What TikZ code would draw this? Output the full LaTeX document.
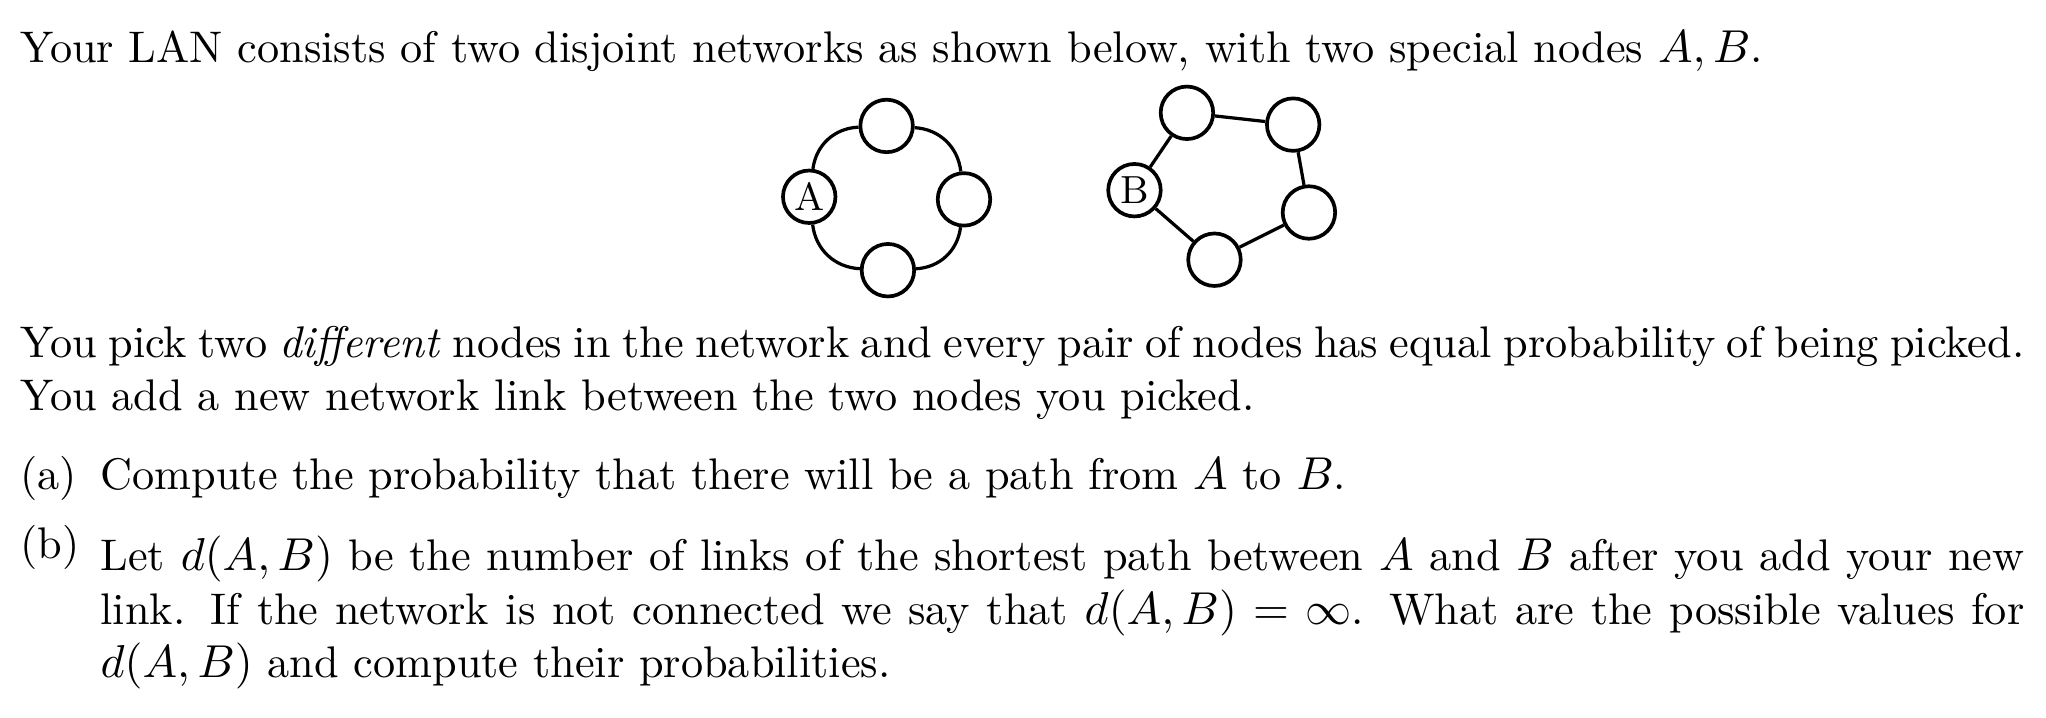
\documentclass[tikz,border=0pt]{standalone}
\begin{document}
\begin{tikzpicture}[x=0.01cm,y=-0.01cm,
  nd/.style={circle,draw,line width=0.8pt,fill=white,minimum size=0.4cm,inner sep=0pt,font=\fontsize{8.5}{10}\selectfont},
  ed/.style={line width=0.7pt},
  txt/.style={anchor=base west,inner sep=0pt,align=justify,font=\fontsize{9.6}{11.6}\selectfont}]
\useasboundingbox (0,0) rectangle (1560,547);
\node[txt] (l1) at (15,48) {Your LAN consists of two disjoint networks as shown below, with two special nodes $A,B$.};
% left network
\node[nd] (A) at (617,150) {A};
\node[nd] (lt) at (676,96) {};
\node[nd] (lr) at (735,152) {};
\node[nd] (lb) at (677,206) {};
\draw[ed] (A) to[bend left=40] (lt);
\draw[ed] (lt) to[bend left=40] (lr);
\draw[ed] (lr) to[bend left=40] (lb);
\draw[ed] (lb) to[bend left=40] (A);
% right network
\node[nd] (B) at (865,145) {B};
\node[nd] (r1) at (905,86) {};
\node[nd] (r2) at (986,95) {};
\node[nd] (r3) at (998,162) {};
\node[nd] (r4) at (926,198) {};
\draw[ed] (B) -- (r1) -- (r2) -- (r3) -- (r4) -- (B);
\node[txt,text width=15.27cm,anchor=north west] (p2) at (15,248) {You pick two \emph{different} nodes in the network and every pair of nodes has equal probability of being picked. You add a new network link between the two nodes you picked.};
\node[txt] (ia) at (15,373) {(a)};
\node[txt] (ta) at (76,373) {Compute the probability that there will be a path from $A$ to $B$.};
\node[txt] (ib) at (15,426) {(b)};
\node[txt,text width=14.66cm,anchor=north west] (tb) at (76,408) {Let $d(A,B)$ be the number of links of the shortest path between $A$ and $B$ after you add your new link. If the network is not connected we say that $d(A,B)=\infty$. What are the possible values for $d(A,B)$ and compute their probabilities.};
\end{tikzpicture}
\end{document}
